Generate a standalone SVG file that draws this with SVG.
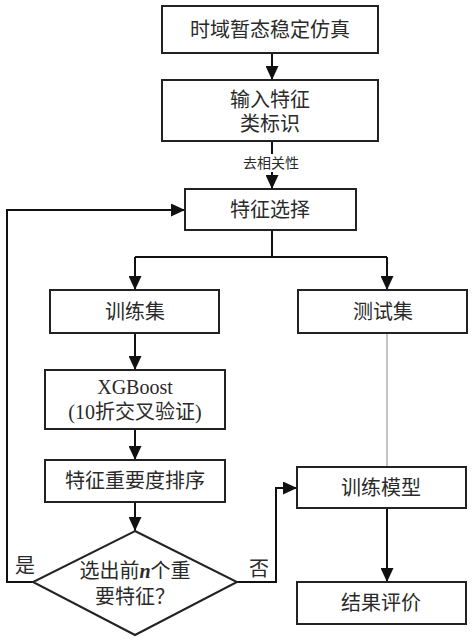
<svg xmlns="http://www.w3.org/2000/svg" width="474" height="641" viewBox="0 0 474 641">
<defs>
<marker id="ah" markerWidth="14" markerHeight="13" refX="14" refY="6.5" orient="auto" markerUnits="userSpaceOnUse" viewBox="0 0 14 13">
<path d="M0,0 L14,6.5 L0,13 z" fill="#111"/>
</marker>
<style>
.box{fill:#fff;stroke:#222;stroke-width:2}
.t{font-family:"Liberation Serif","Noto Sans CJK SC",serif;font-size:20px;fill:#2a2a2a;text-anchor:middle}
.s{font-size:14px}
.ln{fill:none;stroke:#111;stroke-width:2}
.gl{fill:none;stroke:#888;stroke-width:1}
</style>
</defs>
<g id="connectors">
<line class="ln" x1="272" y1="53" x2="272" y2="80" marker-end="url(#ah)"/>
<line class="ln" x1="272" y1="141" x2="272" y2="189" marker-end="url(#ah)"/>
<rect x="242" y="154" width="58" height="18" fill="#fff"/>
<polyline class="ln" points="33,582 7,582 7,210 185,210" marker-end="url(#ah)"/>
<line class="ln" x1="272" y1="230" x2="272" y2="257"/>
<polyline class="ln" points="135,257 387,257" />
<line class="ln" x1="135" y1="257" x2="135" y2="290" marker-end="url(#ah)"/>
<line class="ln" x1="387" y1="257" x2="387" y2="290" marker-end="url(#ah)"/>
<line class="ln" x1="135" y1="333" x2="135" y2="370" marker-end="url(#ah)"/>
<line class="ln" x1="135" y1="429" x2="135" y2="460" marker-end="url(#ah)"/>
<line class="ln" x1="135" y1="502" x2="135" y2="531" marker-end="url(#ah)"/>
<polyline class="ln" points="237,582 276,582 276,488 297,488" marker-end="url(#ah)"/>
<line class="gl" x1="387" y1="333" x2="387" y2="467"/>
<line class="ln" x1="387" y1="508" x2="387" y2="582" marker-end="url(#ah)"/>
<text class="t s" x="271" y="168">去相关性</text>
<text class="t" x="25" y="573" font-size="18">是</text>
<text class="t" x="259" y="576" font-size="18">否</text>
</g>
<g id="n1"><rect class="box" x="162" y="6" width="216" height="47"/><text class="t" x="270" y="37">时域暂态稳定仿真</text></g>
<g id="n2"><rect class="box" x="162" y="80" width="216" height="61"/><text class="t" x="270" y="107">输入特征</text><text class="t" x="270" y="131">类标识</text></g>
<g id="n3"><rect class="box" x="185" y="189" width="171" height="41"/><text class="t" x="270" y="217">特征选择</text></g>
<g id="n4"><rect class="box" x="50" y="290" width="169" height="43"/><text class="t" x="135" y="319">训练集</text></g>
<g id="n5"><rect class="box" x="298" y="290" width="169" height="43"/><text class="t" x="383" y="319">测试集</text></g>
<g id="n6"><rect class="box" x="45" y="370" width="180" height="59"/><text class="t" x="135" y="394">XGBoost</text><text class="t" x="135" y="419">(10折交叉验证)</text></g>
<g id="n7"><rect class="box" x="45" y="460" width="180" height="42"/><text class="t" x="135" y="488">特征重要度排序</text></g>
<g id="n8"><polygon class="box" points="135,531 237,582 135,635 33,582"/><text class="t" x="135" y="578">选出前<tspan font-style="italic" font-weight="bold">n</tspan>个重</text><text class="t" x="135" y="604">要特征？</text></g>
<g id="n9"><rect class="box" x="297" y="467" width="169" height="41"/><text class="t" x="381" y="495">训练模型</text></g>
<g id="n10"><rect class="box" x="297" y="582" width="169" height="42"/><text class="t" x="381" y="610">结果评价</text></g>
</svg>
